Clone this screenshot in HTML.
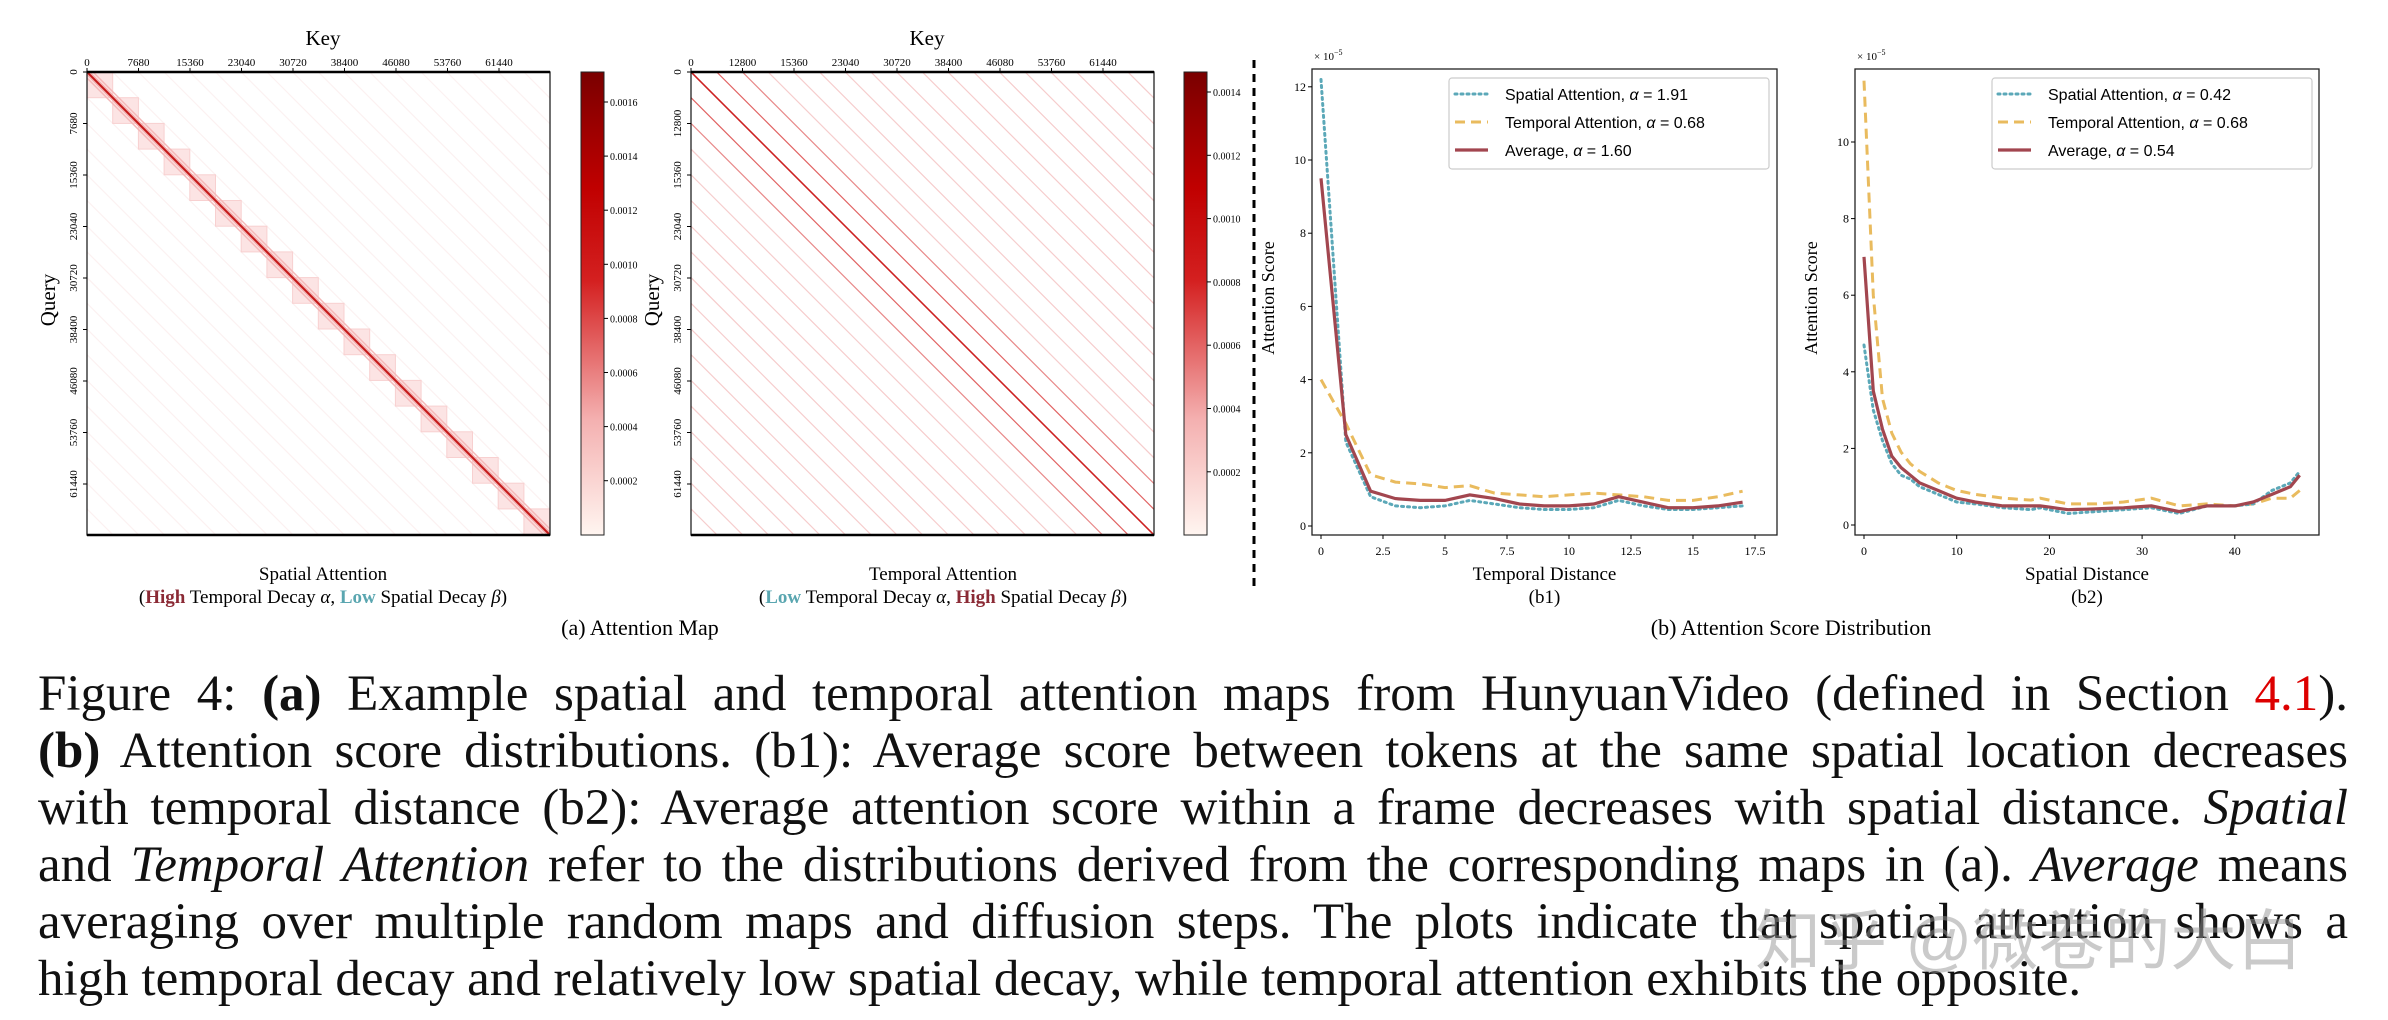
<!DOCTYPE html>
<html><head><meta charset="utf-8"><style>
html,body{margin:0;padding:0;background:#fff;}
body{width:2388px;height:1020px;position:relative;overflow:hidden;font-family:"Liberation Serif",serif;}
.cap{position:absolute;left:38px;width:2310px;font-size:51px;line-height:57px;white-space:nowrap;text-align:justify;text-align-last:justify;color:#111;}
.wm{position:absolute;left:1755px;top:888px;font-family:"Liberation Sans","Noto Sans CJK SC",sans-serif;font-size:66px;color:rgba(150,150,150,0.5);white-space:nowrap;}
svg{position:absolute;left:0;top:0;}
</style></head><body>
<svg id="s" width="2388" height="660" xmlns="http://www.w3.org/2000/svg" font-family="Liberation Serif, serif">
<defs>
<linearGradient id="cb" x1="0" y1="1" x2="0" y2="0">
<stop offset="0" stop-color="#fff5f0"/><stop offset="0.25" stop-color="#f4b0b0"/><stop offset="0.55" stop-color="#d42020"/><stop offset="0.75" stop-color="#c00000"/><stop offset="1" stop-color="#7a0000"/>
</linearGradient>
<clipPath id="c1"><rect x="87" y="72" width="463" height="463"/></clipPath>
<clipPath id="c2"><rect x="691" y="72" width="463" height="463"/></clipPath>
<clipPath id="c3"><rect x="1312" y="69" width="465" height="466"/></clipPath>
<clipPath id="c4"><rect x="1855" y="69" width="464" height="466"/></clipPath>
</defs>
<g id="g"></g>
</svg>
<div class="cap" style="top:666px">Figure 4: <b>(a)</b> Example spatial and temporal attention maps from HunyuanVideo (defined in Section <span style="color:#d00">4.1</span>).</div>
<div class="cap" style="top:723px"><b>(b)</b> Attention score distributions. (b1): Average score between tokens at the same spatial location decreases</div>
<div class="cap" style="top:780px">with temporal distance (b2): Average attention score within a frame decreases with spatial distance. <i>Spatial</i></div>
<div class="cap" style="top:837px">and <i>Temporal Attention</i> refer to the distributions derived from the corresponding maps in (a). <i>Average</i> means</div>
<div class="cap" style="top:894px">averaging over multiple random maps and diffusion steps. The plots indicate that spatial attention shows a</div>
<div class="cap" style="top:951px;text-align-last:left;width:auto">high temporal decay and relatively low spatial decay, while temporal attention exhibits the opposite.</div>
<div class="wm">知乎 @微卷的大白</div>
<script>
var h='';
function T(x,y,s,sz,a,extra){h+='<text x="'+x+'" y="'+y+'" font-size="'+sz+'" text-anchor="'+(a||'middle')+'" '+(extra||'')+'>'+s+'</text>';}
function L(x1,y1,x2,y2,st){h+='<line x1="'+x1+'" y1="'+y1+'" x2="'+x2+'" y2="'+y2+'" '+st+'/>';}
var X0=87,Y0=72,W=463,bs=25.7;
h+='<g clip-path="url(#c1)">';
for(var k=1;k<18;k++){var o=k*bs;h+='<line x1="'+(X0+o)+'" y1="'+Y0+'" x2="'+(X0+W+o)+'" y2="'+(Y0+W)+'" stroke="#fcf1f1" stroke-width="1.2"/>';h+='<line x1="'+X0+'" y1="'+(Y0+o)+'" x2="'+(X0+W)+'" y2="'+(Y0+W+o)+'" stroke="#fcf1f1" stroke-width="1.2"/>';}
for(var i=0;i<18;i++){var p=i*bs;h+='<rect x="'+(X0+p)+'" y="'+(Y0+p)+'" width="'+bs+'" height="'+bs+'" fill="#fce4e4" stroke="#f8d0d0" stroke-width="1"/>';}
L(X0,Y0+6,X0+W-6,Y0+W,'stroke="#f4b8b8" stroke-width="1.5"');
L(X0+6,Y0,X0+W,Y0+W-6,'stroke="#f4b8b8" stroke-width="1.5"');
L(X0,Y0,X0+W,Y0+W,'stroke="#f2b0b0" stroke-width="5"');
L(X0,Y0,X0+W,Y0+W,'stroke="#c41818" stroke-width="2"');
h+='</g>';
var X2=691;
h+='<g clip-path="url(#c2)">';
for(var k=-18;k<=18;k++){var o=k*bs;var ak=Math.abs(k);var c=ak==0?'#cc2222':ak==1?'#e06060':ak==2?'#e88888':'#f6cccc';var w=ak==0?1.6:1.2;
 if(k>=0)L(X2,Y0+o,X2+W-o,Y0+W,'stroke="'+c+'" stroke-width="'+w+'"');else L(X2-o,Y0,X2+W,Y0+W+o,'stroke="'+c+'" stroke-width="'+w+'"');}
h+='</g>';
function frame(x,y,w,hh){h+='<rect x="'+x+'" y="'+y+'" width="'+w+'" height="'+hh+'" fill="none" stroke="#222" stroke-width="1.3"/>';}
var tl=['0','7680','15360','23040','30720','38400','46080','53760','61440'];
var tr=['0','12800','15360','23040','30720','38400','46080','53760','61440'];
[[X0,tl],[X2,tr]].forEach(function(a){var x0=a[0];frame(x0,Y0,W,W);L(x0,Y0+W,x0+W,Y0+W,'stroke="#000" stroke-width="2.5"');L(x0,Y0,x0+W,Y0,'stroke="#000" stroke-width="2.5"');
 T(x0+236,45,'Key',21);
 for(var i=0;i<9;i++){var p=i*51.5;L(x0+p,Y0,x0+p,Y0-4,'stroke="#000"');T(x0+p,66,a[1][i],11);L(x0,Y0+p,x0-4,Y0+p,'stroke="#000"');
 h+='<text transform="translate('+(x0-10)+','+(Y0+p)+') rotate(-90)" font-size="11" text-anchor="middle">'+a[1][i]+'</text>';}
 h+='<text transform="translate('+(x0-32)+',300) rotate(-90)" font-size="21" text-anchor="middle">Query</text>';});
function cbar(x,ticks,y0,step){h+='<rect x="'+x+'" y="72" width="23" height="463" fill="url(#cb)" stroke="#222" stroke-width="1"/>';
 for(var i=0;i<ticks.length;i++){var y=y0+i*step;L(x+23,y,x+27,y,'stroke="#000"');T(x+29,y+4,ticks[i],10,'start');}}
cbar(581,['0.0016','0.0014','0.0012','0.0010','0.0008','0.0006','0.0004','0.0002'],102,54.1);
cbar(1184,['0.0014','0.0012','0.0010','0.0008','0.0006','0.0004','0.0002'],92,63.3);
T(323,580,'Spatial Attention',19);
h+='<text x="323" y="603" font-size="19" text-anchor="middle">(<tspan fill="#8b2a35" font-weight="bold">High</tspan> Temporal Decay <tspan font-style="italic">α</tspan>, <tspan fill="#5aa6b0" font-weight="bold">Low</tspan> Spatial Decay <tspan font-style="italic">β</tspan>)</text>';
T(943,580,'Temporal Attention',19);
h+='<text x="943" y="603" font-size="19" text-anchor="middle">(<tspan fill="#5aa6b0" font-weight="bold">Low</tspan> Temporal Decay <tspan font-style="italic">α</tspan>, <tspan fill="#8b2a35" font-weight="bold">High</tspan> Spatial Decay <tspan font-style="italic">β</tspan>)</text>';
T(640,635,'(a) Attention Map',22);
L(1254,60,1254,590,'stroke="#000" stroke-width="3" stroke-dasharray="8,6"');
var b1={x0:1312,y0:69,w:465,h:466,sx:24.8,ox:1321,sy:36.6,oy:526,clip:'c3'};
var b2={x0:1855,y0:69,w:464,h:466,sx:9.27,ox:1864,sy:38.3,oy:525,clip:'c4'};
var d1s=[12.2,2.3,0.8,0.55,0.5,0.55,0.7,0.6,0.5,0.45,0.45,0.5,0.7,0.55,0.45,0.45,0.5,0.55];
var d1t=[4.0,2.8,1.4,1.2,1.15,1.05,1.1,0.9,0.85,0.8,0.85,0.9,0.85,0.8,0.7,0.7,0.8,0.95];
var d1a=[9.5,2.5,0.95,0.75,0.7,0.7,0.85,0.75,0.6,0.55,0.55,0.6,0.8,0.65,0.5,0.5,0.55,0.65];
function interp(kp){var out=[];for(var i=0;i<kp.length-1;i++){var a=kp[i],b=kp[i+1];for(var x=a[0];x<b[0];x++){out.push(a[1]+(b[1]-a[1])*(x-a[0])/(b[0]-a[0]));}}out.push(kp[kp.length-1][1]);return out;}
var d2s=interp([[0,4.7],[1,3.0],[2,2.2],[3,1.6],[4,1.3],[5,1.2],[6,1.0],[8,0.8],[10,0.6],[12,0.55],[15,0.45],[18,0.4],[19,0.45],[22,0.3],[25,0.35],[28,0.4],[31,0.45],[34,0.3],[37,0.5],[40,0.5],[42,0.55],[44,0.9],[46,1.1],[47,1.4]]);
var d2t=interp([[0,11.6],[1,6],[2,3.3],[3,2.4],[4,1.9],[5,1.6],[6,1.4],[8,1.1],[10,0.9],[12,0.8],[15,0.7],[18,0.65],[19,0.7],[22,0.55],[25,0.55],[28,0.6],[31,0.7],[34,0.5],[37,0.55],[40,0.5],[42,0.55],[44,0.7],[46,0.7],[47,0.9]]);
var d2a=interp([[0,7.0],[1,3.5],[2,2.5],[3,1.8],[4,1.5],[5,1.3],[6,1.1],[8,0.9],[10,0.7],[12,0.6],[15,0.5],[18,0.5],[19,0.5],[22,0.4],[25,0.42],[28,0.45],[31,0.5],[34,0.35],[37,0.5],[40,0.5],[42,0.6],[44,0.8],[46,1.0],[47,1.3]]);
function series(p,d,st){var s='';for(var i=0;i<d.length;i++)s+=(i?'L':'M')+(p.ox+i*p.sx).toFixed(1)+','+(p.oy-d[i]*p.sy).toFixed(1);h+='<path d="'+s+'" fill="none" '+st+'/>';}
var SS='stroke="#5ba8b8" stroke-width="3" stroke-dasharray="2,4" stroke-linecap="round"',
    TS='stroke="#e9bb5e" stroke-width="3" stroke-dasharray="10,6"',
    AS='stroke="#a2464f" stroke-width="3.2"';
function plot(p,ds,dt,da,xt,xv,yt,xl,sub,lg){
 h+='<g clip-path="url(#'+p.clip+')">';series(p,dt,TS);series(p,ds,SS);series(p,da,AS);h+='</g>';
 frame(p.x0,p.y0,p.w,p.h);
 for(var i=0;i<xt.length;i++){var x=p.ox+xv[i]*p.sx;L(x,p.y0+p.h,x,p.y0+p.h+4,'stroke="#000"');T(x,p.y0+p.h+20,xt[i],12);}
 for(var i=0;i<yt.length;i++){var y=p.oy-yt[i]*p.sy;L(p.x0,y,p.x0-4,y,'stroke="#000"');T(p.x0-6,y+4,yt[i],12,'end');}
 h+='<text x="'+(p.x0+2)+'" y="60" font-size="11">× 10<tspan dy="-5" font-size="8">−5</tspan></text>';
 h+='<text transform="translate('+(p.x0-38)+',298) rotate(-90)" font-size="18" text-anchor="middle">Attention Score</text>';
 T(p.x0+p.w/2,580,xl,19);T(p.x0+p.w/2,603,sub,19);
 var lx=p.x0+137,ly=78;h+='<rect x="'+lx+'" y="'+ly+'" width="320" height="91" rx="3" fill="#fff" stroke="#ccc" stroke-width="1.2"/>';
 var sts=[SS,TS,AS];for(var i=0;i<3;i++){var y=ly+16+i*28;L(lx+6,y,lx+39,y,sts[i]);h+='<text x="'+(lx+56)+'" y="'+(y+6)+'" font-size="16" font-family="Liberation Sans, sans-serif">'+lg[i]+'</text>';}
}
plot(b1,d1s,d1t,d1a,['0','2.5','5','7.5','10','12.5','15','17.5'],[0,2.5,5,7.5,10,12.5,15,17.5],[0,2,4,6,8,10,12],'Temporal Distance','(b1)',
 ['Spatial Attention, <tspan font-style="italic">α</tspan> = 1.91','Temporal Attention, <tspan font-style="italic">α</tspan> = 0.68','Average, <tspan font-style="italic">α</tspan> = 1.60']);
plot(b2,d2s,d2t,d2a,['0','10','20','30','40'],[0,10,20,30,40],[0,2,4,6,8,10],'Spatial Distance','(b2)',
 ['Spatial Attention, <tspan font-style="italic">α</tspan> = 0.42','Temporal Attention, <tspan font-style="italic">α</tspan> = 0.68','Average, <tspan font-style="italic">α</tspan> = 0.54']);
T(1791,635,'(b) Attention Score Distribution',22);
document.getElementById('g').innerHTML=h;
</script>
</body></html>
